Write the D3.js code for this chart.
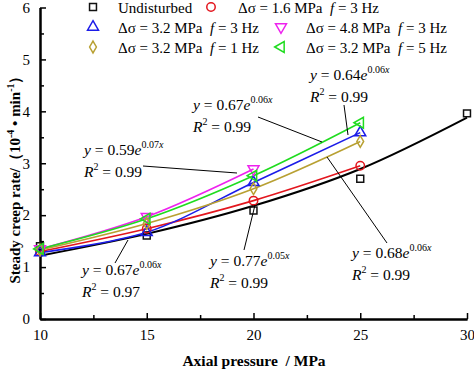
<!DOCTYPE html>
<html>
<head>
<meta charset="utf-8">
<script src="https://cdn.jsdelivr.net/npm/d3@7"></script>
<style>
  body { margin: 0; background: #fff; }
  svg { display: block; font-family: "Liberation Serif", "Times New Roman", serif; }
  svg text { white-space: pre; }
</style>
</head>
<body>
<svg id="chart" width="474" height="371"></svg>
<script>
// pressures (MPa)
var pressures = [10, 15, 20, 25, 30];

// steady creep rates, 10^-4 / min
var undisturbed = [1.40, 1.61, 2.09, 2.70, 3.96];
var s16f3 = [1.30, 1.74, 2.28, 2.95];
var s32f3 = [1.28, 1.67, 2.63, 3.59];
var s48f3 = [1.35, 1.97, 2.89];
var s32f1 = [1.33, 1.84, 2.51, 3.42];
var s32f5 = [1.35, 1.93, 2.76, 3.78];

// the black fitted curve for the undisturbed case, as drawn
var undisturbedFit = [1.22, 1.64, 2.18, 2.89, 3.88];

var xTicks = [10, 15, 20, 25, 30];
var yTicks = [0, 1, 2, 3, 4, 5, 6];

var series = [
  {name: "Undisturbed", values: undisturbed, color: "#111", marker: "square", line: false},
  {name: "1.6|3", values: s16f3, color: "#e3161e", marker: "circle", line: true},
  {name: "3.2|3", values: s32f3, color: "#1c1ce8", marker: "up", line: true},
  {name: "4.8|3", values: s48f3, color: "#ee22ee", marker: "down", line: true},
  {name: "3.2|1", values: s32f1, color: "#b8a032", marker: "diamond", line: true},
  {name: "3.2|5", values: s32f5, color: "#1fdc1f", marker: "left", line: true}
];

var svg = d3.select("#chart");
var x = d3.scaleLinear().domain([10, 30]).range([40, 467]);
var y = d3.scaleLinear().domain([0, 6]).range([319, 7.5]);

// axes, ticks pointing inward
var xAxis = d3.axisBottom(x).tickValues(xTicks).tickFormat(d3.format("d")).tickSizeInner(-6).tickSizeOuter(0).tickPadding(10);
var xMinor = d3.axisBottom(x).tickValues([12.5, 17.5, 22.5, 27.5]).tickSizeInner(-4).tickSizeOuter(0).tickFormat("");
var yAxis = d3.axisLeft(y).tickValues(yTicks).tickFormat(d3.format("d")).tickSizeInner(-6).tickSizeOuter(0).tickPadding(10);
var yMinor = d3.axisLeft(y).tickValues([0.5, 1.5, 2.5, 3.5, 4.5, 5.5]).tickSizeInner(-4).tickSizeOuter(0).tickFormat("");

function styleAxis(g) {
  g.selectAll("path").attr("stroke", "#000").attr("stroke-width", 2);
  g.selectAll("line").attr("stroke", "#000").attr("stroke-width", 1.5);
  g.selectAll("text").attr("font-family", "Liberation Serif").attr("font-size", 15).attr("fill", "#000");
}

svg.append("g").attr("transform", "translate(0,319)").call(xMinor).call(styleAxis);
svg.append("g").attr("transform", "translate(0,319)").call(xAxis).call(styleAxis);
svg.append("g").attr("transform", "translate(40,0)").call(yMinor).call(styleAxis);
svg.append("g").attr("transform", "translate(40,0)").call(yAxis).call(styleAxis);

// axis titles
svg.append("text")
  .attr("x", 254).attr("y", 366)
  .attr("text-anchor", "middle")
  .attr("font-weight", "bold").attr("font-size", 15.5)
  .text("Axial pressure  / MPa");

var yt = svg.append("text")
  .attr("transform", "translate(20,176) rotate(-90)")
  .attr("text-anchor", "middle")
  .attr("font-weight", "bold").attr("font-size", 15);
yt.append("tspan").text("Steady creep rate/（10");
yt.append("tspan").attr("font-size", 10).attr("dy", -6).text("-4");
yt.append("tspan").attr("dy", 6).text(" • min");
yt.append("tspan").attr("font-size", 10).attr("dy", -6).text("-1");
yt.append("tspan").attr("dy", 6).text("）");

// curves
var curve = d3.line()
  .x(function(d) { return x(d[0]); })
  .y(function(d) { return y(d[1]); })
  .curve(d3.curveCatmullRom.alpha(0.5));

function pairs(vals) {
  return vals.map(function(v, i) { return [pressures[i], v]; });
}

svg.append("path")
  .attr("d", curve(pairs(undisturbedFit)))
  .attr("fill", "none").attr("stroke", "#000").attr("stroke-width", 2);

series.forEach(function(s) {
  if (!s.line) return;
  svg.append("path")
    .attr("d", curve(pairs(s.values)))
    .attr("fill", "none").attr("stroke", s.color).attr("stroke-width", 1.6);
});

// markers
var symbolFor = {
  square: d3.symbol().type(d3.symbolSquare).size(48),
  circle: d3.symbol().type(d3.symbolCircle).size(56),
  up: d3.symbol().type(d3.symbolTriangle).size(52),
  down: d3.symbol().type(d3.symbolTriangle).size(52),
  diamond: d3.symbol().type(d3.symbolDiamond).size(40),
  left: d3.symbol().type(d3.symbolTriangle).size(52)
};
var rotFor = {square: 0, circle: 0, up: 0, down: 180, diamond: 0, left: -90};

function drawMarker(g, s, px, py) {
  g.append("path")
    .attr("d", symbolFor[s.marker]())
    .attr("transform", "translate(" + px + "," + py + ") rotate(" + rotFor[s.marker] + ")")
    .attr("fill", "none").attr("stroke", s.color).attr("stroke-width", 1.5);
}

series.forEach(function(s) {
  var g = svg.append("g");
  s.values.forEach(function(v, i) {
    drawMarker(g, s, x(pressures[i]), y(v));
  });
});

// legend
var legendRows = [
  [{s: series[0], label: null, mx: 93, tx: 118}, {s: series[1], label: ["1.6", "3"], mx: 211, tx: 238}],
  [{s: series[2], label: ["3.2", "3"], mx: 93, tx: 118}, {s: series[3], label: ["4.8", "3"], mx: 281, tx: 306}],
  [{s: series[4], label: ["3.2", "1"], mx: 93, tx: 118}, {s: series[5], label: ["3.2", "5"], mx: 281, tx: 306}]
];
var legend = svg.append("g").attr("font-size", 15);
legendRows.forEach(function(row, r) {
  var ly = 7 + r * 20;
  row.forEach(function(item) {
    drawMarker(legend, item.s, item.mx, ly);
    var t = legend.append("text").attr("x", item.tx).attr("y", ly + 6);
    if (!item.label) {
      t.text("Undisturbed");
    } else {
      t.append("tspan").text("Δσ = " + item.label[0] + " MPa  ");
      t.append("tspan").attr("font-style", "italic").text("f");
      t.append("tspan").text(" = " + item.label[1] + " Hz");
    }
  });
});

// fitted equations with leader lines
var notes = [
  {a: 0.64, b: "0.06", r2: "0.99", tx: 310, ty: 80, from: [344, 105], to: [348, 135]},
  {a: 0.67, b: "0.06", r2: "0.99", tx: 193, ty: 110, from: [258, 117], to: [322, 142]},
  {a: 0.59, b: "0.07", r2: "0.99", tx: 84, ty: 155, from: [143, 166], to: [237, 173]},
  {a: 0.67, b: "0.06", r2: "0.97", tx: 82, ty: 275, from: [115, 263], to: [128, 240]},
  {a: 0.77, b: "0.05", r2: "0.99", tx: 210, ty: 266, from: [244, 250], to: [255, 205]},
  {a: 0.68, b: "0.06", r2: "0.99", tx: 352, ty: 258, from: [387, 243], to: [327, 157]}
];
var ann = svg.append("g").attr("font-size", 15.5);
notes.forEach(function(n) {
  ann.append("line")
    .attr("x1", n.from[0]).attr("y1", n.from[1])
    .attr("x2", n.to[0]).attr("y2", n.to[1])
    .attr("stroke", "#000").attr("stroke-width", 1);
  var t1 = ann.append("text").attr("x", n.tx).attr("y", n.ty);
  t1.append("tspan").attr("font-style", "italic").text("y");
  t1.append("tspan").text(" = " + n.a.toFixed(2));
  t1.append("tspan").attr("font-style", "italic").text("e");
  t1.append("tspan").attr("font-size", 10).attr("dy", -7).text(n.b);
  t1.append("tspan").attr("font-size", 10).attr("font-style", "italic").text("x");
  var t2 = ann.append("text").attr("x", n.tx).attr("y", n.ty + 22);
  t2.append("tspan").attr("font-style", "italic").text("R");
  t2.append("tspan").attr("font-size", 10).attr("dy", -7).text("2");
  t2.append("tspan").attr("dy", 7).text(" = " + n.r2);
});
</script>
</body>
</html>
